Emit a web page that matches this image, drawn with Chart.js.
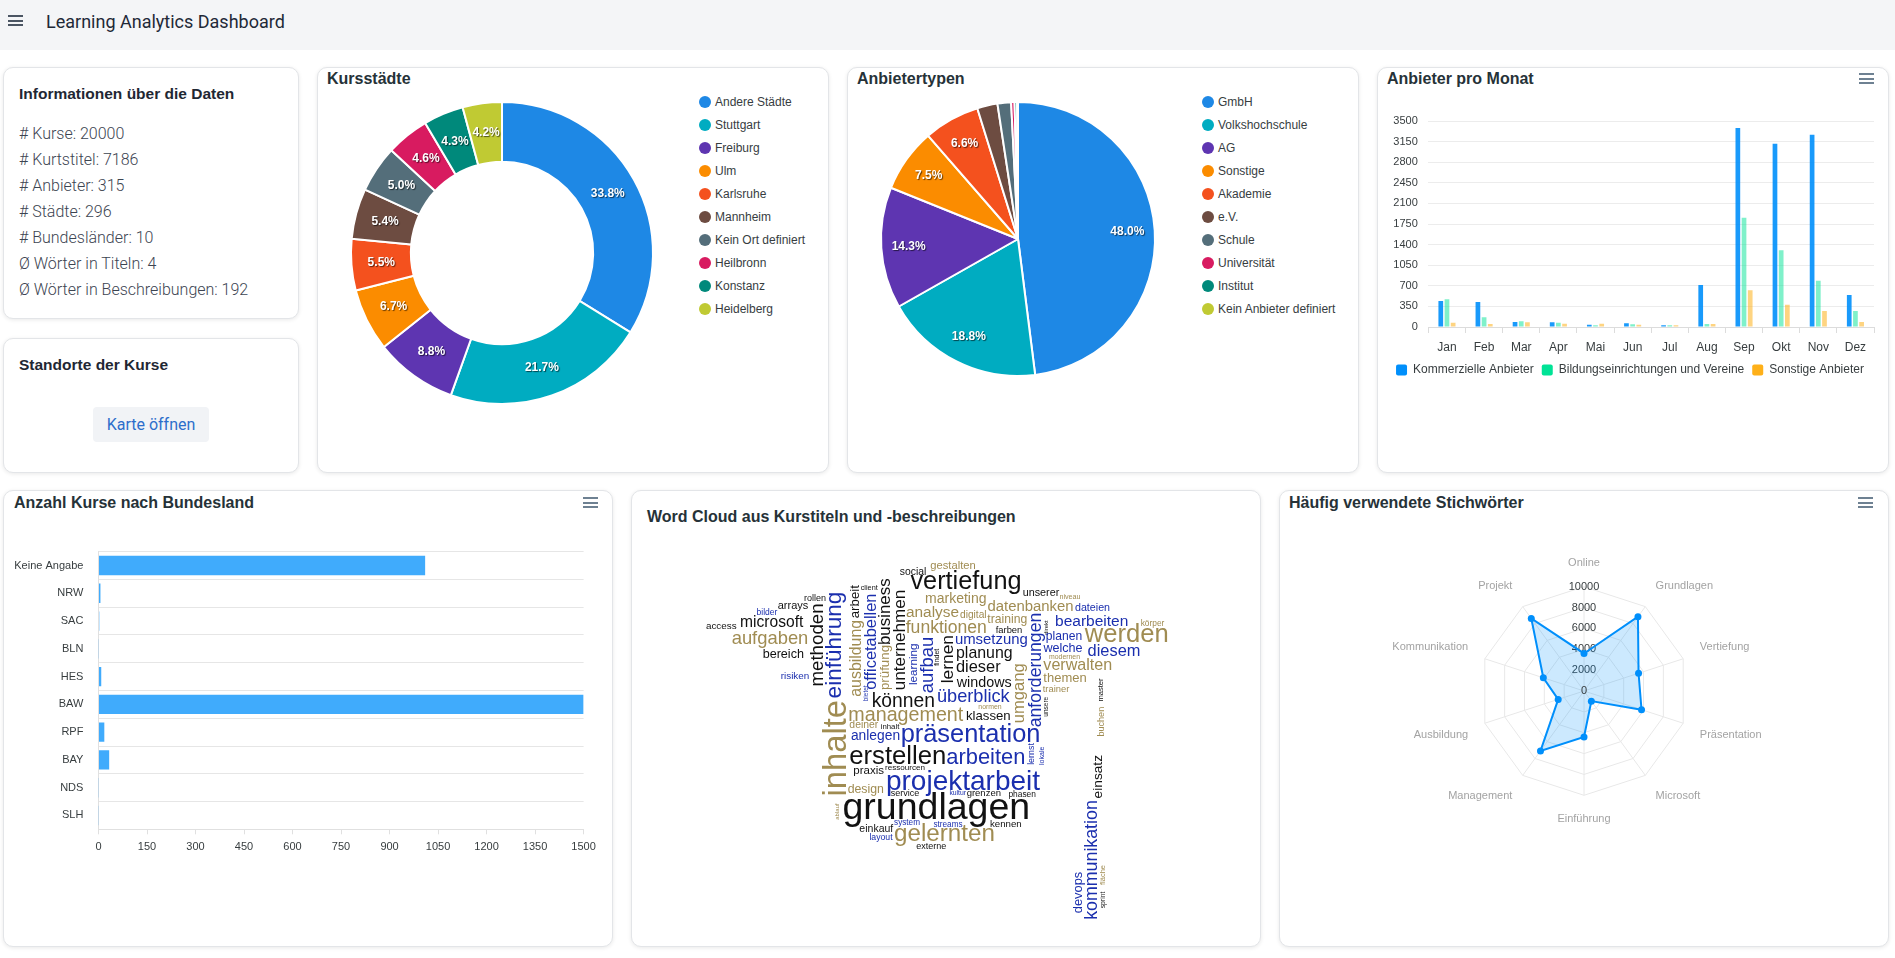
<!DOCTYPE html>
<html lang="de">
<head>
<meta charset="utf-8">
<title>Learning Analytics Dashboard</title>
<script src="https://cdn.jsdelivr.net/npm/chart.js@4.4.1/dist/chart.umd.min.js"></script>
<style>
  html, body { margin: 0; padding: 0; }
  body { width: 1895px; height: 958px; overflow: hidden; background: #fff; position: relative;
         font-family: Roboto, "Liberation Sans", Arial, sans-serif; }
  .topbar { position: absolute; left: 0; top: 0; width: 1895px; height: 50px; background: #f4f5f7; }
  .topbar h1 { position: absolute; left: 46px; top: 0; margin: 0; line-height: 44px; font-size: 18px;
               font-weight: 400; color: #1f2937; }
  .burger { position: absolute; width: 15px; }
  .burger span { display: block; height: 2px; margin-bottom: 2.5px; background: #4b5563; }
  .apexmenu span { background: #6e8192; }
  .card { position: absolute; background: #fff; border: 1px solid #e3e5e8; border-radius: 10px;
          box-shadow: 0 1px 4px rgba(0,0,0,0.09); box-sizing: border-box; }
  .title { position: absolute; font: bold 16px "Liberation Sans", Arial, sans-serif; line-height: 20px;
           color: #263238; white-space: nowrap; }
  .info { position: absolute; left: 19px; top: 121px; font-size: 16px; font-weight: 300; line-height: 26px;
          color: #3c4451; }
  .btn { position: absolute; left: 93px; top: 407px; width: 116px; height: 35px; background: #f1f3f6;
         border-radius: 4px; color: #2c6ecb; font-size: 16px; line-height: 35px; text-align: center; }
  .legend { position: absolute; font: 12px "Liberation Sans", Arial, sans-serif; color: #373d3f; }
  .legend div { height: 23px; line-height: 23px; white-space: nowrap; }
  .legend .dot { display: inline-block; width: 12px; height: 12px; border-radius: 50%;
                 vertical-align: -2px; margin-right: 4px; }
  canvas { position: absolute; }
</style>
</head>
<body>
<div class="topbar">
  <div class="burger" style="left:8px;top:15px"><span></span><span></span><span></span></div>
  <h1>Learning Analytics Dashboard</h1>
</div>

<div class="card" style="left:3px;top:67px;width:296px;height:252px"></div>
<div class="card" style="left:3px;top:338px;width:296px;height:135px"></div>
<div class="card" style="left:317px;top:67px;width:512px;height:406px"></div>
<div class="card" style="left:847px;top:67px;width:512px;height:406px"></div>
<div class="card" style="left:1377px;top:67px;width:512px;height:406px"></div>
<div class="card" style="left:3px;top:490px;width:610px;height:457px"></div>
<div class="card" style="left:631px;top:490px;width:630px;height:457px"></div>
<div class="card" style="left:1279px;top:490px;width:610px;height:457px"></div>

<div class="title" style="left:19px;top:84px;font-size:15.5px;color:#1f2733">Informationen über die Daten</div>
<div class="info" id="infoLines"></div>
<div class="title" style="left:19px;top:355px;font-size:15.5px;color:#1f2733">Standorte der Kurse</div>
<div class="btn">Karte öffnen</div>

<div class="title" style="left:327px;top:69px">Kursstädte</div>
<div class="title" style="left:857px;top:69px">Anbietertypen</div>
<div class="title" style="left:1387px;top:69px">Anbieter pro Monat</div>
<div class="title" style="left:14px;top:493px">Anzahl Kurse nach Bundesland</div>
<div class="title" style="left:647px;top:507px">Word Cloud aus Kurstiteln und -beschreibungen</div>
<div class="title" style="left:1289px;top:493px">Häufig verwendete Stichwörter</div>

<div class="burger apexmenu" style="left:1859px;top:73px"><span></span><span></span><span></span></div>
<div class="burger apexmenu" style="left:583px;top:497px"><span></span><span></span><span></span></div>
<div class="burger apexmenu" style="left:1858px;top:497px"><span></span><span></span><span></span></div>

<div class="legend" id="cityLegend" style="left:699px;top:91px"></div>
<div class="legend" id="typeLegend" style="left:1202px;top:91px"></div>

<canvas id="cityChart" width="330" height="330" style="left:337px;top:88px"></canvas>
<canvas id="typeChart" width="300" height="300" style="left:868px;top:89px"></canvas>
<canvas id="monthChart" width="508" height="290" style="left:1378px;top:96px"></canvas>
<canvas id="stateChart" width="600" height="340" style="left:6px;top:530px"></canvas>
<canvas id="cloudChart" width="630" height="457" style="left:631px;top:490px"></canvas>
<canvas id="keywordChart" width="560" height="270" style="left:1304px;top:556px"></canvas>

<script>
// --- data -----------------------------------------------------------
const infoLines = ['# Kurse: 20000', '# Kurtstitel: 7186', '# Anbieter: 315', '# Städte: 296',
  '# Bundesländer: 10', 'Ø Wörter in Titeln: 4', 'Ø Wörter in Beschreibungen: 192'];

const cityLabels = ['Andere Städte', 'Stuttgart', 'Freiburg', 'Ulm', 'Karlsruhe', 'Mannheim',
  'Kein Ort definiert', 'Heilbronn', 'Konstanz', 'Heidelberg'];
const cityShares = [33.8, 21.7, 8.8, 6.7, 5.5, 5.4, 5.0, 4.6, 4.3, 4.2];

const typeLabels = ['GmbH', 'Volkshochschule', 'AG', 'Sonstige', 'Akademie', 'e.V.', 'Schule',
  'Universität', 'Institut', 'Kein Anbieter definiert'];
const typeShares = [48.0, 18.8, 14.3, 7.5, 6.6, 2.4, 1.6, 0.4, 0.3, 0.1];

const months = ['Jan', 'Feb', 'Mar', 'Apr', 'Mai', 'Jun', 'Jul', 'Aug', 'Sep', 'Okt', 'Nov', 'Dez'];
const commercial = [441, 425, 85, 79, 40, 62, 28, 713, 3379, 3113, 3266, 543];
const education = [470, 164, 96, 74, 28, 45, 28, 51, 1856, 1302, 787, 272];
const otherProviders = [74, 51, 79, 57, 57, 40, 28, 51, 623, 379, 272, 85];
const seriesNames = ['Kommerzielle Anbieter', 'Bildungseinrichtungen und Vereine', 'Sonstige Anbieter'];

const states = ['Keine Angabe', 'NRW', 'SAC', 'BLN', 'HES', 'BAW', 'RPF', 'BAY', 'NDS', 'SLH'];
const coursesByState = [1010, 6, 2.5, 0.5, 8.5, 1500, 18, 33, 0.5, 0.5];

const keywords = ['Online', 'Grundlagen', 'Vertiefung', 'Präsentation', 'Microsoft', 'Einführung',
  'Management', 'Ausbildung', 'Kommunikation', 'Projekt'];
const keywordCounts = [3600, 8800, 5500, 5800, 1200, 4400, 7100, 2600, 4100, 8600];

// word cloud: word, position in the cloud frame, weight (font px), tone, vertical
const words = ['social','gestalten','vertiefung','unserer','niveau','marketing','datenbanken','dateien',
  'analyse','digital','training','bearbeiten','körper','funktionen','farben','direkt','anforderungen',
  'planen','werden','umsetzung','welche','diesem','planung','modernen','dieser','verwalten','windows',
  'themen','trainer','überblick','normen','unsere','master','buchen','umgang','klassen','präsentation',
  'lernst','lokale','arbeiten','projektarbeit','einsatz','kultur','grenzen','phasen','grundlagen',
  'kommunikation','devops','sprint','fläche','streams','kennen','gelernten','externe','rollen','client',
  'arbeit','arrays','bilder','microsoft','access','aufgaben','bereich','risiken','methoden','einführung',
  'inhalte','ausbildung','officetabellen','bietet','business','prüfung','unternehmen','learning','aufbau',
  'findet','lernen','können','management','deiner','inhalt','anlegen','erstellen','praxis','ressourcen',
  'design','service','ablauf','system','einkauf','layout'];
const wordX = [282,322,335,410,439,324.8,399.5,461.5,301.5,342.3,376.3,460.7,521.5,315.3,378,415.7,405,
  433,495.7,360.3,432,483,353.3,433.5,347.3,446.8,353.2,434,425,342.3,359,415,470,470,388.3,357.3,339.5,
  400.7,410.7,354.8,332,467.3,326.7,352.8,391.2,305.3,460.7,447.3,472.3,472.3,317,374.8,313.5,300.2,184,
  238.2,224,162,136,140.7,90.3,139,152.3,164,187.3,204,205.7,225.7,240.7,235.7,254,254,269,283,297.3,
  306.3,317.3,272.3,274.8,232.8,259,244.5,266.8,237.7,274,234.8,274,206.7,276,245.3,250];
const wordY = [82,76,92.5,103,107,109.3,117.3,118.3,122.7,125,130,131.7,133.3,138.3,140,137.7,180,
  146.7,145,150,158.3,161.7,163.3,166.7,177.3,176,193.3,188.3,199.3,207.3,217.3,216.7,200,231.7,203.3,
  226,245,264,265.8,267.5,292,286.7,303.3,303.3,304.3,318.3,370,402.5,410,385,334.3,334,344.3,356.7,
  108.3,98.3,111.7,116,122.7,132.7,136,149,165,186,155,155,258.3,168.3,151.7,203.3,121.7,177.5,150,
  174.2,175,167.3,169.2,211.5,226,235,237,246,267,281,277.7,299.3,303.3,321.7,332.7,339.3,347.7];
const wordSize = [10.4,11.2,25.3,10.8,7.2,14,14.9,10.7,15.4,10.2,12.2,15.5,8.4,17.6,9.4,6,17.6,12.1,
  25.6,14.9,12.6,16.4,15.9,6.9,16.4,16.1,14.3,13,9.4,18.2,6.9,6.5,7.6,9.1,16.6,13.2,25.4,8.9,7,21.9,28,
  13.7,6.8,9.5,8.4,37.5,17.8,12.9,6.8,7.5,8.2,9.7,24.2,9,9,7.3,13.3,11,8.5,15.6,9.9,18.4,12.6,9.9,18.7,
  22.6,32.8,15.9,16.4,6.5,16.9,13.3,17.1,11.7,18.5,7,17.4,19.3,19.7,10.4,7.8,13.8,25.7,11.5,8.1,12.3,9,
  6,8.2,10.5,8.7];
const wordTone = ['k','g','k','k','g','g','g','b','g','g','g','b','g','g','k','k','b','b','g','b','b',
  'b','k','g','k','g','k','g','g','b','g','k','k','g','g','k','b','b','b','b','b','k','b','k','k','k',
  'b','b','k','g','b','k','g','k','k','k','k','k','b','k','k','g','k','b','k','b','g','g','b','b','k',
  'g','k','b','b','k','k','k','g','g','k','b','k','k','k','g','k','g','b','k','b'];
const wordUp = [0,0,0,0,0,0,0,0,0,0,0,0,0,0,0,1,1,0,0,0,0,0,0,0,0,0,0,0,0,0,0,1,1,1,1,0,0,1,1,0,0,1,
  0,0,0,0,1,1,1,1,0,0,0,0,0,0,1,0,0,0,0,0,0,0,1,1,1,1,1,1,1,1,1,1,1,1,1,0,0,0,0,0,0,0,0,0,0,1,0,0,0];

const palette = ['#1E88E5', '#00ACC1', '#5E35B1', '#FB8C00', '#F4511E', '#6D4C41', '#546E7A',
  '#D81B60', '#00897B', '#C0CA33'];
const seriesColors = ['#008FFB', '#00E396', '#FEB019'];
const toneColors = {k: '#111111', g: '#a08c52', b: '#1b2fae'};

// --- html parts -----------------------------------------------------
document.getElementById('infoLines').innerHTML = infoLines.map(t => `<div>${t}</div>`).join('');

function buildLegend(id, labels) {
  const el = document.getElementById(id);
  labels.forEach((t, i) => {
    const row = document.createElement('div');
    row.innerHTML = `<span class="dot" style="background:${palette[i]}"></span>${t}`;
    el.appendChild(row);
  });
}
buildLegend('cityLegend', cityLabels);
buildLegend('typeLegend', typeLabels);

// --- charts ---------------------------------------------------------
Chart.defaults.font.family = '"Liberation Sans", Arial, Helvetica, sans-serif';
Chart.defaults.color = '#373d3f';
Chart.defaults.animation = false;
Chart.defaults.responsive = false;
Chart.defaults.plugins.tooltip.enabled = false;

const plainNumber = v => String(v);

// percentage labels on the slices
const sliceLabels = {
  id: 'sliceLabels',
  afterDatasetsDraw(chart, args, opts) {
    const ctx = chart.ctx;
    const values = chart.data.datasets[0].data;
    ctx.save();
    ctx.font = 'bold 12px "Liberation Sans", Arial, sans-serif';
    ctx.textAlign = 'center';
    ctx.textBaseline = 'middle';
    ctx.fillStyle = '#fff';
    ctx.shadowColor = 'rgba(0,0,0,0.6)';
    ctx.shadowOffsetX = 1;
    ctx.shadowOffsetY = 1;
    ctx.shadowBlur = 1;
    chart.getDatasetMeta(0).data.forEach((arc, i) => {
      if (values[i] < opts.min) return;
      const p = arc.getProps(['x', 'y', 'startAngle', 'endAngle', 'innerRadius', 'outerRadius'], true);
      const mid = (p.startAngle + p.endAngle) / 2;
      const r = p.innerRadius > 0 ? (p.innerRadius + p.outerRadius) / 2 : p.outerRadius * opts.ratio;
      ctx.fillText(values[i].toFixed(1) + '%', p.x + Math.cos(mid) * r, p.y + Math.sin(mid) * r);
    });
    ctx.restore();
  }
};

new Chart(document.getElementById('cityChart'), {
  type: 'doughnut',
  data: {
    labels: cityLabels,
    datasets: [{data: cityShares, backgroundColor: palette, borderColor: '#fff', borderWidth: 2,
      hoverOffset: 0, radius: 151, cutout: 99}]
  },
  options: {
    layout: {padding: 0},
    plugins: {legend: {display: false}, sliceLabels: {min: 0, ratio: 0.5}}
  },
  plugins: [sliceLabels]
});

new Chart(document.getElementById('typeChart'), {
  type: 'pie',
  data: {
    labels: typeLabels,
    datasets: [{data: typeShares, backgroundColor: palette, borderColor: '#fff', borderWidth: 2,
      hoverOffset: 0, radius: 137}]
  },
  options: {
    layout: {padding: 0},
    plugins: {legend: {display: false}, sliceLabels: {min: 3, ratio: 0.8}}
  },
  plugins: [sliceLabels]
});

new Chart(document.getElementById('monthChart'), {
  type: 'bar',
  data: {
    labels: months,
    datasets: [
      {label: seriesNames[0], data: commercial, backgroundColor: 'rgba(0,143,251,0.9)'},
      {label: seriesNames[1], data: education, backgroundColor: 'rgba(0,227,150,0.5)'},
      {label: seriesNames[2], data: otherProviders, backgroundColor: 'rgba(254,176,25,0.55)'}
    ]
  },
  options: {
    datasets: {bar: {categoryPercentage: 0.5, barPercentage: 0.76}},
    layout: {padding: {left: 8, right: 12, top: 25, bottom: 0}},
    scales: {
      x: {
        grid: {drawOnChartArea: false, color: '#dcdcdc', tickLength: 6, offset: true},
        border: {color: '#dcdcdc'},
        ticks: {font: {size: 12}, padding: 7},
        afterFit(s) { s.height = 29; }
      },
      y: {
        min: 0, max: 3500,
        ticks: {stepSize: 350, font: {size: 11}, padding: 10.6, callback: plainNumber},
        grid: {color: '#ececec', drawTicks: false},
        border: {display: false},
        afterFit(s) { s.width = 42.4; }
      }
    },
    plugins: {
      legend: {
        position: 'bottom',
        labels: {
          boxWidth: 11, boxHeight: 11, useBorderRadius: true, borderRadius: 2, padding: 8,
          font: {size: 12},
          generateLabels(chart) {
            const items = Chart.defaults.plugins.legend.labels.generateLabels(chart);
            items.forEach((it, i) => { it.fillStyle = seriesColors[i]; it.strokeStyle = seriesColors[i]; it.lineWidth = 0; });
            return items;
          }
        }
      }
    }
  }
});

new Chart(document.getElementById('stateChart'), {
  type: 'bar',
  data: {
    labels: states,
    datasets: [{data: coursesByState, backgroundColor: 'rgba(0,143,251,0.75)',
      barPercentage: 0.7, categoryPercentage: 1}]
  },
  options: {
    indexAxis: 'y',
    layout: {padding: {top: 15, right: 22.4, left: 0, bottom: 0}},
    scales: {
      x: {
        min: 0, max: 1500,
        ticks: {stepSize: 150, font: {size: 11}, padding: 5.8, callback: plainNumber},
        grid: {drawOnChartArea: false, color: '#e0e0e0', tickLength: 5},
        border: {color: '#e0e0e0'},
        afterFit(s) { s.height = 40.7; }
      },
      y: {
        ticks: {font: {size: 11}, padding: 15.1},
        grid: {color: '#e6e6e6', drawTicks: false, offset: true},
        border: {color: '#e0e0e0'},
        afterFit(s) { s.width = 92.5; }
      }
    },
    plugins: {legend: {display: false}}
  }
});

// words of the cloud, drawn at their scaled positions
const wordLayer = {
  id: 'wordLayer',
  afterDatasetsDraw(chart) {
    const ctx = chart.ctx;
    ctx.save();
    ctx.textAlign = 'center';
    ctx.textBaseline = 'middle';
    chart.getDatasetMeta(0).data.forEach((pt, i) => {
      ctx.save();
      ctx.translate(pt.x, pt.y);
      if (wordUp[i]) ctx.rotate(-Math.PI / 2);
      ctx.font = `${wordSize[i]}px "Liberation Sans", Arial, sans-serif`;
      ctx.fillStyle = toneColors[wordTone[i]];
      ctx.fillText(words[i], 0, 0);
      ctx.restore();
    });
    ctx.restore();
  }
};

new Chart(document.getElementById('cloudChart'), {
  type: 'scatter',
  data: {datasets: [{data: words.map((w, i) => ({x: wordX[i], y: wordY[i]})), pointRadius: 0}]},
  options: {
    layout: {padding: 0},
    scales: {
      x: {type: 'linear', display: false, min: 0, max: 630},
      y: {type: 'linear', display: false, min: 0, max: 457, reverse: true}
    },
    plugins: {legend: {display: false}}
  },
  plugins: [wordLayer]
});

// Chart.js skips the first radial tick label, ApexCharts shows "0"
const zeroTick = {
  id: 'zeroTick',
  afterDraw(chart) {
    const r = chart.scales.r;
    const ctx = chart.ctx;
    ctx.save();
    ctx.font = '11px "Liberation Sans", Arial, sans-serif';
    ctx.fillStyle = '#373d3f';
    ctx.textAlign = 'center';
    ctx.textBaseline = 'middle';
    ctx.fillText(r.ticks[0].label, r.xCenter, r.yCenter - r.getDistanceFromCenterForValue(r.ticks[0].value));
    ctx.restore();
  }
};

new Chart(document.getElementById('keywordChart'), {
  type: 'radar',
  data: {
    labels: keywords,
    datasets: [{data: keywordCounts, borderColor: '#008FFB', backgroundColor: 'rgba(0,143,251,0.2)',
      borderWidth: 2, pointRadius: 3.5, pointBackgroundColor: '#008FFB', pointBorderWidth: 0}]
  },
  options: {
    layout: {padding: 0},
    scales: {
      r: {
        min: 0, max: 10000,
        ticks: {stepSize: 2000, showLabelBackdrop: false, font: {size: 11}, color: '#373d3f', callback: plainNumber},
        grid: {color: '#e8e8e8'},
        angleLines: {color: '#e8e8e8'},
        pointLabels: {font: {size: 11}, color: '#a3a3a3', padding: 10}
      }
    },
    plugins: {legend: {display: false}}
  },
  plugins: [zeroTick]
});
</script>
</body>
</html>
